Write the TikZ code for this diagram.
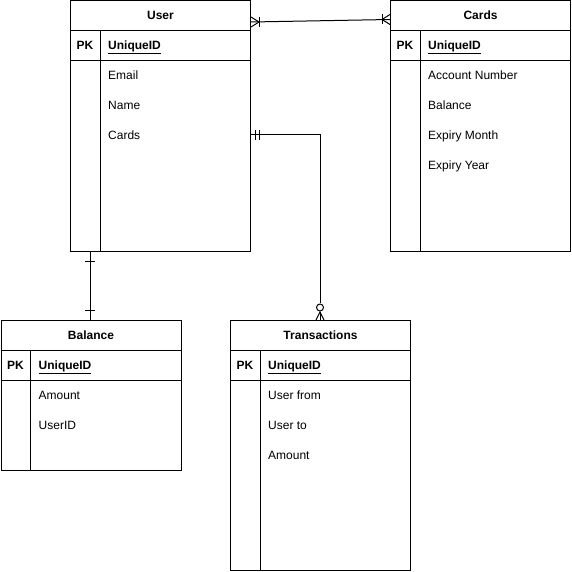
\documentclass[tikz,border=0pt]{standalone}
\usepackage{fontspec}
\setmainfont{Liberation Sans}
\usetikzlibrary{calc}
\begin{document}
\begin{tikzpicture}[x=1pt,y=-1pt,
  tbl/.style={draw,line width=1pt,rectangle,minimum width=180pt,anchor=north west,inner sep=0pt},
  hdr/.style={font=\fontsize{12}{14}\selectfont\bfseries,anchor=base,inner sep=0pt},
  fld/.style={font=\fontsize{12}{14}\selectfont,anchor=base west,inner sep=0pt},
  pk/.style={font=\fontsize{12}{14}\selectfont\bfseries,anchor=base,inner sep=0pt},
  pkid/.style={font=\fontsize{12}{14}\selectfont\bfseries,anchor=base west,inner sep=0pt},
  conn/.style={line width=1pt},
  tip/.style={line width=1pt}]
\useasboundingbox (0,0) rectangle (571,572);
% tables
\node[tbl,minimum height=250pt] (user) at (70,0.5) {};
\node[tbl,minimum height=250pt] (cards) at (390,0.5) {};
\node[tbl,minimum height=150pt] (bal) at (0.5,320) {};
\node[tbl,minimum height=250pt] (tr) at (230,320) {};
% inner lines
\foreach \t in {user,cards,bal,tr}{
  \draw[line width=1pt] ($(\t.north west)+(0,30)$) -- ($(\t.north east)+(0,30)$);
  \draw[line width=1pt] ($(\t.north west)+(0,60)$) -- ($(\t.north east)+(0,60)$);
  \draw[line width=1pt] ($(\t.north west)+(30,30)$) -- ($(\t.south west)+(30,0)$);
}
% headers
\node[hdr] (userh) at ($(user.north)+(0,19.3)$) {User};
\node[hdr] (cardsh) at ($(cards.north)+(0,19.3)$) {Cards};
\node[hdr] (balh) at ($(bal.north)+(0,19.3)$) {Balance};
\node[hdr] (trh) at ($(tr.north)+(0,19.3)$) {Transactions};
% PK rows
\foreach \t in {user,cards,bal,tr}{
  \node[pk] (\t pk) at ($(\t.north west)+(15,49.3)$) {PK};
  \node[pkid] (\t id) at ($(\t.north west)+(38,49.3)$) {\underline{UniqueID}};
}
% fields
\node[fld] (ue) at ($(user.north west)+(38,79.3)$) {Email};
\node[fld] (un) at ($(user.north west)+(38,109.3)$) {Name};
\node[fld] (uc) at ($(user.north west)+(38,139.3)$) {Cards};
\node[fld] (ca) at ($(cards.north west)+(38,79.3)$) {Account Number};
\node[fld] (cb) at ($(cards.north west)+(38,109.3)$) {Balance};
\node[fld] (cm) at ($(cards.north west)+(38,139.3)$) {Expiry Month};
\node[fld] (cy) at ($(cards.north west)+(38,169.3)$) {Expiry Year};
\node[fld] (ba) at ($(bal.north west)+(38,79.3)$) {Amount};
\node[fld] (bu) at ($(bal.north west)+(38,109.3)$) {UserID};
\node[fld] (tf) at ($(tr.north west)+(38,79.3)$) {User from};
\node[fld] (tt) at ($(tr.north west)+(38,109.3)$) {User to};
\node[fld] (ta) at ($(tr.north west)+(38,139.3)$) {Amount};
% connector endpoints
\coordinate (uc1) at ($(user.north east)+(0,21.5)$);
\coordinate (cc1) at ($(cards.north west)+(0,19)$);
\coordinate (uc2) at ($(user.north east)+(0,134.5)$);
\coordinate (tc2) at ($(tr.north west)+(90,0)$);
\coordinate (ub) at ($(user.south west)+(20,0)$);
\coordinate (bu3) at ($(bal.north west)+(89.5,0)$);
% User - Cards
\draw[conn] (uc1) -- (cc1);
\draw[tip] ($(uc1)+(0,-5)$) -- ($(uc1)+(8,0)$) -- ($(uc1)+(0,5)$);
\draw[tip] ($(uc1)+(8,-5)$) -- ($(uc1)+(8,5)$);
\draw[tip] ($(cc1)+(0,-5)$) -- ($(cc1)+(-8,0)$) -- ($(cc1)+(0,5)$);
\draw[tip] ($(cc1)+(-8,-5)$) -- ($(cc1)+(-8,5)$);
% User - Transactions
\draw[conn] (uc2) -| ($(tc2)+(0,-17)$);
\draw[tip] ($(uc2)+(4,-5)$) -- ($(uc2)+(4,5)$);
\draw[tip] ($(uc2)+(8,-5)$) -- ($(uc2)+(8,5)$);
\draw[tip] ($(tc2)+(-4,0)$) -- ($(tc2)+(0,-8)$) -- ($(tc2)+(4,0)$);
\draw[conn] ($(tc2)+(0,-8)$) -- (tc2);
\draw[tip,fill=white] ($(tc2)+(0,-12.5)$) circle (3.5pt);
% User - Balance
\draw[conn] (ub) -- (bu3);
\draw[tip] ($(ub)+(-5,10)$) -- ($(ub)+(5,10)$);
\draw[tip] ($(bu3)+(-5,-10)$) -- ($(bu3)+(5,-10)$);
\end{tikzpicture}
\end{document}
